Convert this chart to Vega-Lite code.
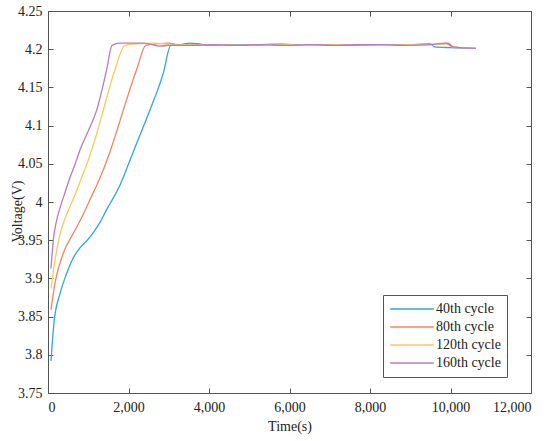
{
  "$schema": "https://vega.github.io/schema/vega-lite/v6.json",
  "width": 483,
  "height": 382,
  "autosize": {"type": "none"},
  "padding": {"left": 48, "top": 11, "right": 19, "bottom": 48},
  "background": "white",
  "data": {
    "values": [
      {"cycle": "40th cycle", "t": 74, "v": 3.792},
      {"cycle": "40th cycle", "t": 149, "v": 3.842},
      {"cycle": "40th cycle", "t": 298, "v": 3.880},
      {"cycle": "40th cycle", "t": 460, "v": 3.906},
      {"cycle": "40th cycle", "t": 629, "v": 3.927},
      {"cycle": "40th cycle", "t": 794, "v": 3.940},
      {"cycle": "40th cycle", "t": 960, "v": 3.949},
      {"cycle": "40th cycle", "t": 1125, "v": 3.960},
      {"cycle": "40th cycle", "t": 1300, "v": 3.974},
      {"cycle": "40th cycle", "t": 1456, "v": 3.990},
      {"cycle": "40th cycle", "t": 1630, "v": 4.006},
      {"cycle": "40th cycle", "t": 1787, "v": 4.022},
      {"cycle": "40th cycle", "t": 2017, "v": 4.052},
      {"cycle": "40th cycle", "t": 2250, "v": 4.083},
      {"cycle": "40th cycle", "t": 2531, "v": 4.120},
      {"cycle": "40th cycle", "t": 2861, "v": 4.168},
      {"cycle": "40th cycle", "t": 3052, "v": 4.205},
      {"cycle": "40th cycle", "t": 3300, "v": 4.206},
      {"cycle": "40th cycle", "t": 3520, "v": 4.208},
      {"cycle": "40th cycle", "t": 3750, "v": 4.207},
      {"cycle": "40th cycle", "t": 4000, "v": 4.205},
      {"cycle": "40th cycle", "t": 4500, "v": 4.206},
      {"cycle": "40th cycle", "t": 5000, "v": 4.205},
      {"cycle": "40th cycle", "t": 5500, "v": 4.206},
      {"cycle": "40th cycle", "t": 6000, "v": 4.205},
      {"cycle": "40th cycle", "t": 6500, "v": 4.206},
      {"cycle": "40th cycle", "t": 7000, "v": 4.206},
      {"cycle": "40th cycle", "t": 7500, "v": 4.205},
      {"cycle": "40th cycle", "t": 8000, "v": 4.206},
      {"cycle": "40th cycle", "t": 8500, "v": 4.205},
      {"cycle": "40th cycle", "t": 9000, "v": 4.206},
      {"cycle": "40th cycle", "t": 9500, "v": 4.207},
      {"cycle": "40th cycle", "t": 9600, "v": 4.203},
      {"cycle": "40th cycle", "t": 10000, "v": 4.202},
      {"cycle": "40th cycle", "t": 10630, "v": 4.201},
      {"cycle": "80th cycle", "t": 74, "v": 3.859},
      {"cycle": "80th cycle", "t": 174, "v": 3.894},
      {"cycle": "80th cycle", "t": 380, "v": 3.933},
      {"cycle": "80th cycle", "t": 629, "v": 3.959},
      {"cycle": "80th cycle", "t": 830, "v": 3.979},
      {"cycle": "80th cycle", "t": 1042, "v": 4.003},
      {"cycle": "80th cycle", "t": 1210, "v": 4.022},
      {"cycle": "80th cycle", "t": 1373, "v": 4.042},
      {"cycle": "80th cycle", "t": 1555, "v": 4.068},
      {"cycle": "80th cycle", "t": 1710, "v": 4.093},
      {"cycle": "80th cycle", "t": 1869, "v": 4.120},
      {"cycle": "80th cycle", "t": 2200, "v": 4.173},
      {"cycle": "80th cycle", "t": 2431, "v": 4.205},
      {"cycle": "80th cycle", "t": 2700, "v": 4.207},
      {"cycle": "80th cycle", "t": 3000, "v": 4.208},
      {"cycle": "80th cycle", "t": 3200, "v": 4.206},
      {"cycle": "80th cycle", "t": 3500, "v": 4.205},
      {"cycle": "80th cycle", "t": 4000, "v": 4.206},
      {"cycle": "80th cycle", "t": 4600, "v": 4.205},
      {"cycle": "80th cycle", "t": 5200, "v": 4.206},
      {"cycle": "80th cycle", "t": 5800, "v": 4.207},
      {"cycle": "80th cycle", "t": 6300, "v": 4.205},
      {"cycle": "80th cycle", "t": 7000, "v": 4.206},
      {"cycle": "80th cycle", "t": 7600, "v": 4.206},
      {"cycle": "80th cycle", "t": 8200, "v": 4.205},
      {"cycle": "80th cycle", "t": 8800, "v": 4.206},
      {"cycle": "80th cycle", "t": 9400, "v": 4.206},
      {"cycle": "80th cycle", "t": 9800, "v": 4.207},
      {"cycle": "80th cycle", "t": 9950, "v": 4.208},
      {"cycle": "80th cycle", "t": 10060, "v": 4.203},
      {"cycle": "80th cycle", "t": 10630, "v": 4.201},
      {"cycle": "120th cycle", "t": 74, "v": 3.887},
      {"cycle": "120th cycle", "t": 174, "v": 3.924},
      {"cycle": "120th cycle", "t": 298, "v": 3.958},
      {"cycle": "120th cycle", "t": 420, "v": 3.978},
      {"cycle": "120th cycle", "t": 546, "v": 3.994},
      {"cycle": "120th cycle", "t": 700, "v": 4.013},
      {"cycle": "120th cycle", "t": 835, "v": 4.032},
      {"cycle": "120th cycle", "t": 960, "v": 4.049},
      {"cycle": "120th cycle", "t": 1084, "v": 4.068},
      {"cycle": "120th cycle", "t": 1230, "v": 4.093},
      {"cycle": "120th cycle", "t": 1373, "v": 4.120},
      {"cycle": "120th cycle", "t": 1663, "v": 4.173},
      {"cycle": "120th cycle", "t": 1911, "v": 4.205},
      {"cycle": "120th cycle", "t": 2200, "v": 4.207},
      {"cycle": "120th cycle", "t": 2600, "v": 4.208},
      {"cycle": "120th cycle", "t": 2900, "v": 4.207},
      {"cycle": "120th cycle", "t": 3100, "v": 4.205},
      {"cycle": "120th cycle", "t": 3600, "v": 4.206},
      {"cycle": "120th cycle", "t": 4200, "v": 4.206},
      {"cycle": "120th cycle", "t": 4800, "v": 4.205},
      {"cycle": "120th cycle", "t": 5400, "v": 4.206},
      {"cycle": "120th cycle", "t": 6000, "v": 4.206},
      {"cycle": "120th cycle", "t": 6600, "v": 4.205},
      {"cycle": "120th cycle", "t": 7200, "v": 4.206},
      {"cycle": "120th cycle", "t": 7800, "v": 4.206},
      {"cycle": "120th cycle", "t": 8400, "v": 4.205},
      {"cycle": "120th cycle", "t": 9000, "v": 4.206},
      {"cycle": "120th cycle", "t": 9600, "v": 4.206},
      {"cycle": "120th cycle", "t": 9900, "v": 4.207},
      {"cycle": "120th cycle", "t": 10060, "v": 4.203},
      {"cycle": "120th cycle", "t": 10630, "v": 4.201},
      {"cycle": "160th cycle", "t": 74, "v": 3.913},
      {"cycle": "160th cycle", "t": 132, "v": 3.950},
      {"cycle": "160th cycle", "t": 210, "v": 3.975},
      {"cycle": "160th cycle", "t": 298, "v": 3.992},
      {"cycle": "160th cycle", "t": 420, "v": 4.012},
      {"cycle": "160th cycle", "t": 546, "v": 4.032},
      {"cycle": "160th cycle", "t": 670, "v": 4.049},
      {"cycle": "160th cycle", "t": 794, "v": 4.068},
      {"cycle": "160th cycle", "t": 1000, "v": 4.093},
      {"cycle": "160th cycle", "t": 1208, "v": 4.120},
      {"cycle": "160th cycle", "t": 1456, "v": 4.173},
      {"cycle": "160th cycle", "t": 1590, "v": 4.205},
      {"cycle": "160th cycle", "t": 1787, "v": 4.208},
      {"cycle": "160th cycle", "t": 2365, "v": 4.208},
      {"cycle": "160th cycle", "t": 2500, "v": 4.207},
      {"cycle": "160th cycle", "t": 2780, "v": 4.204},
      {"cycle": "160th cycle", "t": 3000, "v": 4.205},
      {"cycle": "160th cycle", "t": 3500, "v": 4.205},
      {"cycle": "160th cycle", "t": 4100, "v": 4.206},
      {"cycle": "160th cycle", "t": 4700, "v": 4.205},
      {"cycle": "160th cycle", "t": 5300, "v": 4.206},
      {"cycle": "160th cycle", "t": 5900, "v": 4.205},
      {"cycle": "160th cycle", "t": 6500, "v": 4.206},
      {"cycle": "160th cycle", "t": 7100, "v": 4.205},
      {"cycle": "160th cycle", "t": 7700, "v": 4.206},
      {"cycle": "160th cycle", "t": 8300, "v": 4.206},
      {"cycle": "160th cycle", "t": 8900, "v": 4.205},
      {"cycle": "160th cycle", "t": 9500, "v": 4.206},
      {"cycle": "160th cycle", "t": 9890, "v": 4.208},
      {"cycle": "160th cycle", "t": 10060, "v": 4.203},
      {"cycle": "160th cycle", "t": 10630, "v": 4.201}
    ]
  },
  "encoding": {
    "x": {
      "field": "t",
      "type": "quantitative",
      "scale": {"domain": [0, 12000], "nice": false, "zero": false}
    },
    "y": {
      "field": "v",
      "type": "quantitative",
      "scale": {"domain": [3.75, 4.25], "nice": false, "zero": false}
    }
  },
  "layer": [
    {
      "mark": {"type": "line", "strokeWidth": 1.3, "interpolate": "monotone"},
      "encoding": {
        "x": {
          "field": "t",
          "type": "quantitative",
          "axis": {
            "title": "Time(s)",
            "values": [0, 2000, 4000, 6000, 8000, 10000, 12000],
            "format": ",d",
            "labelPadding": 12,
            "titlePadding": 5
          }
        },
        "y": {
          "field": "v",
          "type": "quantitative",
          "axis": {
            "title": "Voltage(V)",
            "values": [3.75, 3.8, 3.85, 3.9, 3.95, 4, 4.05, 4.1, 4.15, 4.2, 4.25],
            "format": ".3~f",
            "labelPadding": 11,
            "titleX": -31,
            "titleY": 200,
            "titleAlign": "center",
            "titleBaseline": "middle",
            "titleAngle": -90
          }
        },
        "color": {
          "field": "cycle",
          "type": "nominal",
          "sort": ["40th cycle", "80th cycle", "120th cycle", "160th cycle"],
          "scale": {
            "domain": ["40th cycle", "80th cycle", "120th cycle", "160th cycle"],
            "range": ["#2ea6de", "#f7845f", "#fdc95b", "#b67bc6"]
          },
          "legend": {
            "title": null,
            "orient": "none",
            "legendX": 335,
            "legendY": 284,
            "symbolType": "stroke",
            "symbolSize": 1900,
            "symbolStrokeWidth": 1.5,
            "clipHeight": 16,
            "labelFont": "Liberation Serif",
            "labelFontSize": 14,
            "labelColor": "#222",
            "labelOffset": 1,
            "rowPadding": 2,
            "padding": 6,
            "strokeColor": "#555",
            "fillColor": "white"
          }
        }
      }
    },
    {
      "mark": {"type": "line", "opacity": 0},
      "encoding": {
        "x": {
          "field": "t",
          "type": "quantitative",
          "axis": {"orient": "top", "labels": false, "title": null, "values": [0, 2000, 4000, 6000, 8000, 10000, 12000]}
        },
        "y": {
          "field": "v",
          "type": "quantitative",
          "axis": {"orient": "right", "labels": false, "title": null, "values": [3.75, 3.8, 3.85, 3.9, 3.95, 4, 4.05, 4.1, 4.15, 4.2, 4.25]}
        },
        "detail": {"field": "cycle"}
      }
    }
  ],
  "resolve": {"axis": {"x": "independent", "y": "independent"}},
  "config": {
    "view": {"stroke": "#555", "strokeWidth": 1},
    "axis": {
      "grid": false,
      "domainColor": "#555",
      "tickColor": "#555",
      "tickSize": -5,
      "labelFont": "Liberation Serif",
      "labelFontSize": 14,
      "labelColor": "#222",
      "titleFont": "Liberation Serif",
      "titleFontSize": 14,
      "titleFontWeight": "normal",
      "titleColor": "#222"
    }
  }
}
